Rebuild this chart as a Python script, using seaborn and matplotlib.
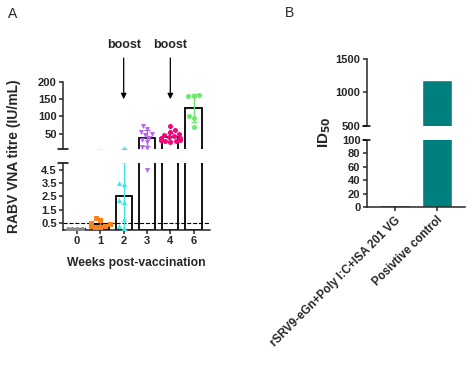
import matplotlib
matplotlib.use("Agg")
import matplotlib.pyplot as plt
import pandas as pd
import seaborn as sns

# Panel A: titres per week
weeks = ["0", "1", "2", "3", "4", "6"]
week0 = [0.05, 0.05, 0.05, 0.05]
week1 = [0.9, 0.7, 0.5, 0.4, 0.3, 0.3, 0.2, 0.2]
week2 = [8.0, 3.5, 3.4, 2.2, 2.1, 0.8, 0.3, 0.1]
week3 = [72, 62, 55, 50, 45, 38, 30, 25, 12, 9, 4.5]
week4 = [72, 60, 55, 48, 45, 42, 40, 38, 36, 35, 33, 32, 30, 30, 28, 27, 26]
week6 = [162, 160, 158, 100, 95, 70]
week_colors = ["#8c8c8c", "#f7821e", "#3ee6e6", "#b865f2", "#f0087c", "#6ee86e"]
week_markers = ["o", "s", "^", "v", "o", "o"]
boost_weeks = ["2", "4"]

# Panel B: ID50
groups = ["rSRV9-eGn+Poly I:C+ISA 201 VG", "Posivtive control"]
id50 = [3, 1190]
group_colors = ["#1a1a1a", "#007f7f"]

titres = [week0, week1, week2, week3, week4, week6]
df = pd.DataFrame({
    "week": [w for w, vals in zip(weeks, titres) for _ in vals],
    "titre": [v for vals in titres for v in vals],
})

sns.set_style("ticks")
plt.rcParams["font.family"] = ["Liberation Sans", "DejaVu Sans"]
plt.rcParams["font.weight"] = "bold"
plt.rcParams["axes.linewidth"] = 1.1
plt.rcParams["xtick.major.width"] = 1.1
plt.rcParams["ytick.major.width"] = 1.1
plt.rcParams["xtick.major.size"] = 3
plt.rcParams["ytick.major.size"] = 3
plt.rcParams["xtick.major.pad"] = 2
plt.rcParams["ytick.major.pad"] = 1.5

fig = plt.figure(figsize=(4.74, 3.72), dpi=100)
axA_top = fig.add_axes([0.133, 0.5995, 0.310, 0.180])
axA_bot = fig.add_axes([0.133, 0.383, 0.310, 0.179])
axB_top = fig.add_axes([0.7736, 0.661, 0.2074, 0.181])
axB_bot = fig.add_axes([0.7736, 0.4427, 0.2074, 0.181])


def break_mark(ax, y):
    # little horizontal dash across the spine where the axis is broken
    ax.plot([-0.035, 0.035], [y, y], transform=ax.transAxes, color="black",
            lw=1.1, clip_on=False)


# ---- Panel A ----
stats = df.groupby("week", sort=False)["titre"].agg(["mean", "std"]).reindex(weeks)
limits = {axA_top: (5, 200), axA_bot: (0, 5)}
for ax, (lo, hi) in limits.items():
    sns.barplot(data=df, x="week", y="titre", order=weeks, errorbar=None,
                color="white", saturation=1, edgecolor="black", linewidth=1.3,
                width=0.7, ax=ax)
    for i, w in enumerate(weeks):
        ax.errorbar(i, stats.loc[w, "mean"], yerr=stats.loc[w, "std"],
                    color=week_colors[i], lw=1, capsize=2, zorder=3)
    # only the points that fall inside this half of the broken axis
    for i, w in enumerate(weeks):
        sub = df[(df["week"] == w) & (df["titre"] >= lo) & (df["titre"] <= hi)]
        if len(sub) == 0:
            continue
        sns.swarmplot(data=sub, x="week", y="titre", order=weeks,
                      color=week_colors[i], marker=week_markers[i], size=3.6,
                      ax=ax, zorder=4)
    ax.set_ylim(lo, hi)
    ax.set_xlim(-0.6, 5.7)
    ax.set_xlabel("")
    ax.set_ylabel("")
    ax.tick_params(labelsize=8)
    sns.despine(ax=ax)

axA_top.set_yticks([50, 100, 150, 200])
axA_top.spines["bottom"].set_visible(False)
axA_top.tick_params(axis="x", bottom=False, labelbottom=False)
break_mark(axA_top, 0)

axA_bot.set_yticks([0.5, 1.5, 2.5, 3.5, 4.5])
axA_bot.set_yticklabels(["0.5", "1.5", "2.5", "3.5", "4.5"])
axA_bot.axhline(0.5, color="black", ls="--", lw=0.8, zorder=1)
break_mark(axA_bot, 1)

for w in boost_weeks:
    axA_top.annotate("boost", xy=(weeks.index(w), 150), xytext=(0, 35),
                     textcoords="offset points", ha="center", va="bottom",
                     fontsize=9, fontweight="bold", annotation_clip=False,
                     arrowprops=dict(arrowstyle="-|>", color="black", lw=0.9,
                                     mutation_scale=8, shrinkA=3, shrinkB=0))

fig.text(0.030, 0.581, "RABV VNA titre (IU/mL)", rotation=90, ha="center",
         va="center", fontsize=10, fontweight="bold")
fig.text(0.288, 0.293, "Weeks post-vaccination", ha="center", va="center",
         fontsize=8.7, fontweight="bold")
fig.text(0.016, 0.962, "A", ha="left", va="center", fontsize=10, fontweight="normal")

# ---- Panel B ----
for ax in (axB_top, axB_bot):
    sns.barplot(x=groups, y=id50, hue=groups, palette=group_colors, legend=False,
                saturation=1, width=0.7, ax=ax)
    ax.set_xlim(-0.67, 1.67)
    ax.tick_params(labelsize=8)
    sns.despine(ax=ax)

axB_top.set_ylim(500, 1500)
axB_top.set_yticks([500, 1000, 1500])
axB_top.spines["bottom"].set_visible(False)
axB_top.tick_params(axis="x", bottom=False, labelbottom=False)
break_mark(axB_top, 0)

axB_bot.set_ylim(0, 100)
axB_bot.set_yticks([0, 20, 40, 60, 80, 100])
axB_bot.set_xticks(range(len(groups)))
axB_bot.set_xticklabels(groups, rotation=45, ha="right", rotation_mode="anchor",
                        fontsize=8.3, fontweight="bold")
break_mark(axB_bot, 1)

fig.text(0.684, 0.645, "ID$_{\\mathbf{50}}$", rotation=90, ha="center", va="center",
         fontsize=11, fontweight="bold")
fig.text(0.601, 0.965, "B", ha="left", va="center", fontsize=10, fontweight="normal")

fig.savefig("out.png", dpi=100)
